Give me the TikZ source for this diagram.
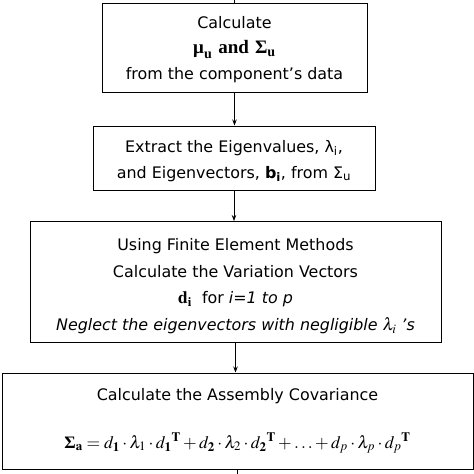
\documentclass[tikz,border=0pt]{standalone}
\usepackage{mathptmx}
\usepackage{amsmath}
\usepackage{bm}
\usepackage{fontspec}
\setsansfont{DejaVu Sans}
\newfontfamily\serifb{Liberation Serif}
\usetikzlibrary{arrows.meta}
\newcommand{\bSig}{\text{\serifb\bfseries Σ}}
\newcommand{\bMu}{\text{\serifb\bfseries μ}}
\begin{document}
\begin{tikzpicture}[x=1pt,y=-1pt,
  box/.style={draw=black,line width=1pt,inner sep=0pt,align=center,
    font=\fontsize{15.9}{25.5}\selectfont\sffamily},
  arr/.style={line width=0.8pt,-{Stealth[length=6pt,width=4.5pt]}},
  plain/.style={line width=0.8pt}]
\useasboundingbox (0,0) rectangle (474,474);
\fill[white] (0,0) rectangle (474,474);
\node[box,minimum width=265pt,minimum height=89pt] (b1) at (234.5,47.5)
  {\rule{0pt}{16pt}Calculate\\ {\fontsize{19}{19}\selectfont $\bMu_{\mathbf{u}}$ {\serifb\bfseries and} $\bSig_{\mathbf{u}}$}\\ from the component’s data};
\node[box,minimum width=282pt,minimum height=64pt] (b2) at (234,158)
  {\rule{0pt}{18pt}Extract the Eigenvalues, λ\textsubscript{i},\\ and Eigenvectors, \textbf{b\textsubscript{i}}, from Σ\textsubscript{u}};
\node[box,minimum width=411pt,minimum height=121pt,
  font=\fontsize{15.9}{26.7}\selectfont\sffamily] (b3) at (235.5,282)
  {\rule{0pt}{20pt}Using Finite Element Methods\\ Calculate the Variation Vectors\\
   {\fontsize{17.5}{17.5}\selectfont$\mathbf{d}_{\mathbf{i}}$}\ \ for \textit{i=1 to p}\\
   \textit{Neglect the eigenvectors with negligible {\fontsize{17.5}{17.5}\selectfont$\lambda_i$}\ ’s}};
\node[box,minimum width=471pt,minimum height=96pt] (b4) at (237.5,421)
  {Calculate the Assembly Covariance\\[22pt]
   {\fontsize{17.5}{17.5}\selectfont$\bSig_{\mathbf{a}} = d_{\mathbf{1}}\cdot\lambda_1\cdot {d_{\mathbf{1}}}^{\mathbf{T}} + d_{\mathbf{2}}\cdot\lambda_2\cdot {d_{\mathbf{2}}}^{\mathbf{T}} + \ldots + d_p\cdot\lambda_p\cdot {d_p}^{\mathbf{T}}$}};
\coordinate (topin) at (234,0);
\coordinate (botout) at (238,474);
\draw[plain] (topin) -- (topin |- b1.north);
\draw[arr] (b1.south) -- (b1.south |- b2.north);
\draw[arr] (b2.south) -- (b2.south |- b3.north);
\draw[arr] (b3.south) -- (b3.south |- b4.north);
\draw[plain] (b4.south) -- (b4.south |- botout);
\end{tikzpicture}
\end{document}
